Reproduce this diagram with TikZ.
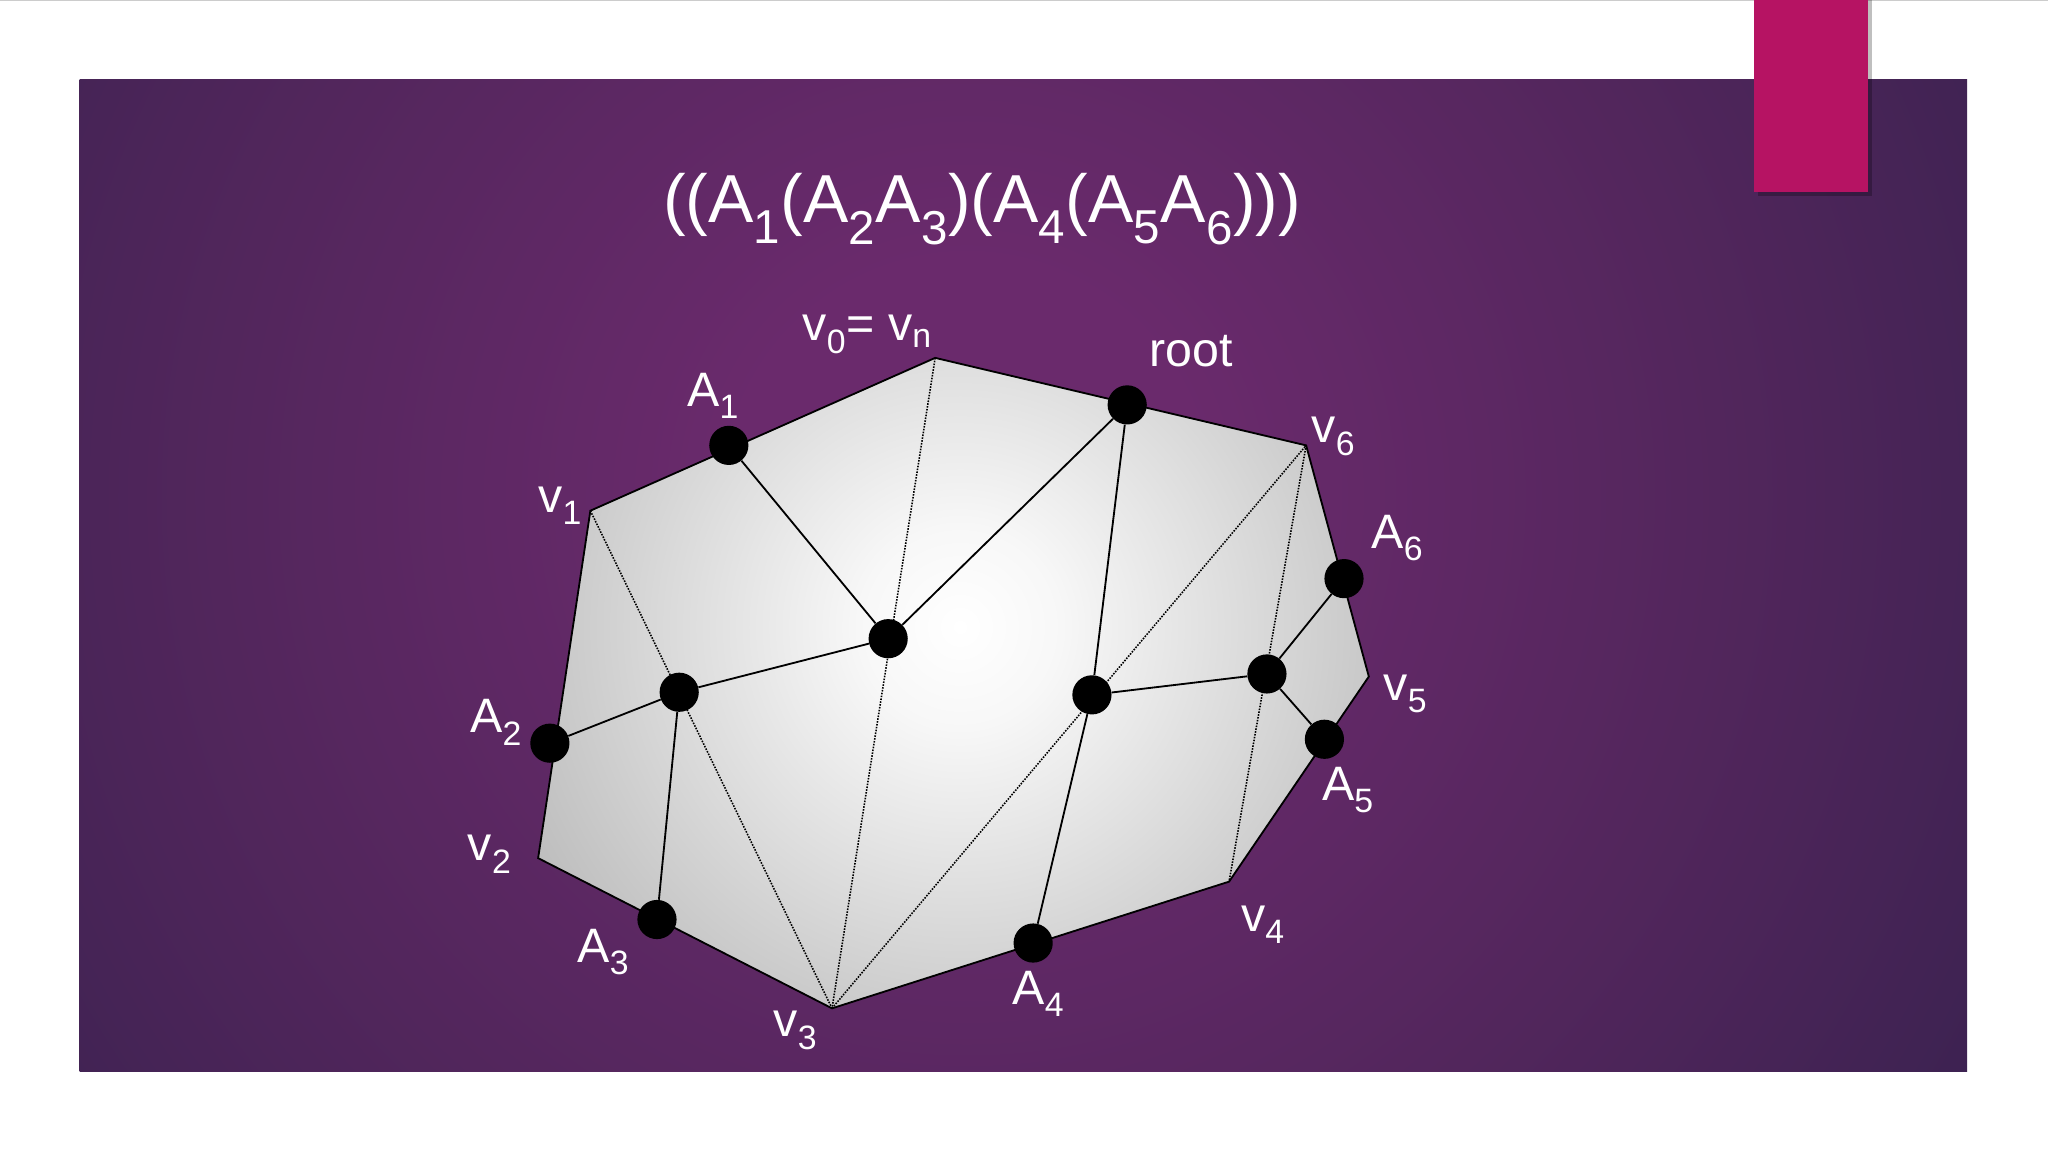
\documentclass[tikz,border=0pt]{standalone}
\usepackage{fontspec}
\setmainfont{Liberation Sans}
\definecolor{purpin}{RGB}{106,42,108}
\definecolor{purpmid}{RGB}{82,38,92}
\definecolor{purpout}{RGB}{38,30,70}
\definecolor{magbox}{RGB}{182,19,99}
\pgfdeclareradialshading{bgshade}{\pgfpoint{0bp}{0bp}}{color(0bp)=(purpin); color(5bp)=(purpin); color(16bp)=(purpmid); color(34bp)=(purpout); color(50bp)=(purpout)}
\pgfdeclareradialshading{polyshade}{\pgfpoint{0bp}{0bp}}{color(0bp)=(white); color(5bp)=(white!97!black); color(28bp)=(white!70!black); color(50bp)=(white!58!black)}
\begin{document}
\begin{tikzpicture}[x=1pt,y=-1pt,
  dot/.style={circle,fill=black,inner sep=0pt,minimum size=30pt},
  lab/.style={text=white,font=\fontsize{37}{37}\selectfont,inner sep=0pt},
  solidl/.style={black,line width=1.4pt},
  dotl/.style={black,line width=1.2pt,densely dotted}]
\useasboundingbox (0,0) rectangle (1568,882);
\fill[white] (0,0) rectangle (1568,882);
\draw[gray!40,line width=1pt] (0,0.5) -- (1568,0.5);
\begin{scope}
\clip (61,61) rectangle (1506,820);
\shade[shading=bgshade] (740,380) circle (900);
\end{scope}
\fill[black,opacity=0.25] (1346,0) rectangle (1433,150);
\fill[magbox] (1343,0) rectangle (1430,147);
\node[text=white,font=\fontsize{52}{52}\selectfont] (title) at (752,160) {((A\textsubscript{1}(A\textsubscript{2}A\textsubscript{3})(A\textsubscript{4}(A\textsubscript{5}A\textsubscript{6})))};
% vertices
\coordinate (v0) at (716,274);
\coordinate (v6) at (1000,341);
\coordinate (v5) at (1048,518);
\coordinate (v4) at (941,675);
\coordinate (v3) at (637,772);
\coordinate (v2) at (412,657);
\coordinate (v1) at (452,391);
\begin{scope}
\clip (v0) -- (v6) -- (v5) -- (v4) -- (v3) -- (v2) -- (v1) -- cycle;
\shade[shading=polyshade] (735,480) circle (380);
\end{scope}
\draw[black,line width=1.4pt] (v0) -- (v6) -- (v5) -- (v4) -- (v3) -- (v2) -- (v1) -- cycle;
\draw[dotl] (v0) -- (v3);
\draw[dotl] (v1) -- (v3);
\draw[dotl] (v3) -- (v6);
\draw[dotl] (v6) -- (v4);
% nodes
\node[dot] (A1) at (558,341) {};
\node[dot] (root) at (863,310) {};
\node[dot] (A6) at (1029,443) {};
\node[dot] (A5) at (1014,566) {};
\node[dot] (A4) at (791,722) {};
\node[dot] (A3) at (503,704) {};
\node[dot] (A2) at (421,569) {};
\node[dot] (n1) at (680,489) {};
\node[dot] (n2) at (520,530) {};
\node[dot] (n3) at (836,532) {};
\node[dot] (n4) at (970,516) {};
\draw[solidl] (A1) -- (n1);
\draw[solidl] (n1) -- (root);
\draw[solidl] (root) -- (n3);
\draw[solidl] (n2) -- (n1);
\draw[solidl] (n2) -- (A2);
\draw[solidl] (n2) -- (A3);
\draw[solidl] (n3) -- (n4);
\draw[solidl] (n3) -- (A4);
\draw[solidl] (n4) -- (A6);
\draw[solidl] (n4) -- (A5);
% labels
\node[lab] (lv0) at (664,256) {v\textsubscript{0}= v\textsubscript{n}};
\node[lab] (lroot) at (912,269) {root};
\node[lab] (lv6) at (1021,334) {v\textsubscript{6}};
\node[lab] (lA6) at (1070,412) {A\textsubscript{6}};
\node[lab] (lv5) at (1076,531) {v\textsubscript{5}};
\node[lab] (lA5) at (1032,605) {A\textsubscript{5}};
\node[lab] (lv4) at (967,708) {v\textsubscript{4}};
\node[lab] (lA4) at (795,761) {A\textsubscript{4}};
\node[lab] (lv3) at (609,789) {v\textsubscript{3}};
\node[lab] (lA3) at (462,729) {A\textsubscript{3}};
\node[lab] (lv2) at (375,654) {v\textsubscript{2}};
\node[lab] (lA2) at (380,553) {A\textsubscript{2}};
\node[lab] (lv1) at (429,387) {v\textsubscript{1}};
\node[lab] (lA1) at (546,303) {A\textsubscript{1}};
\end{tikzpicture}
\end{document}
